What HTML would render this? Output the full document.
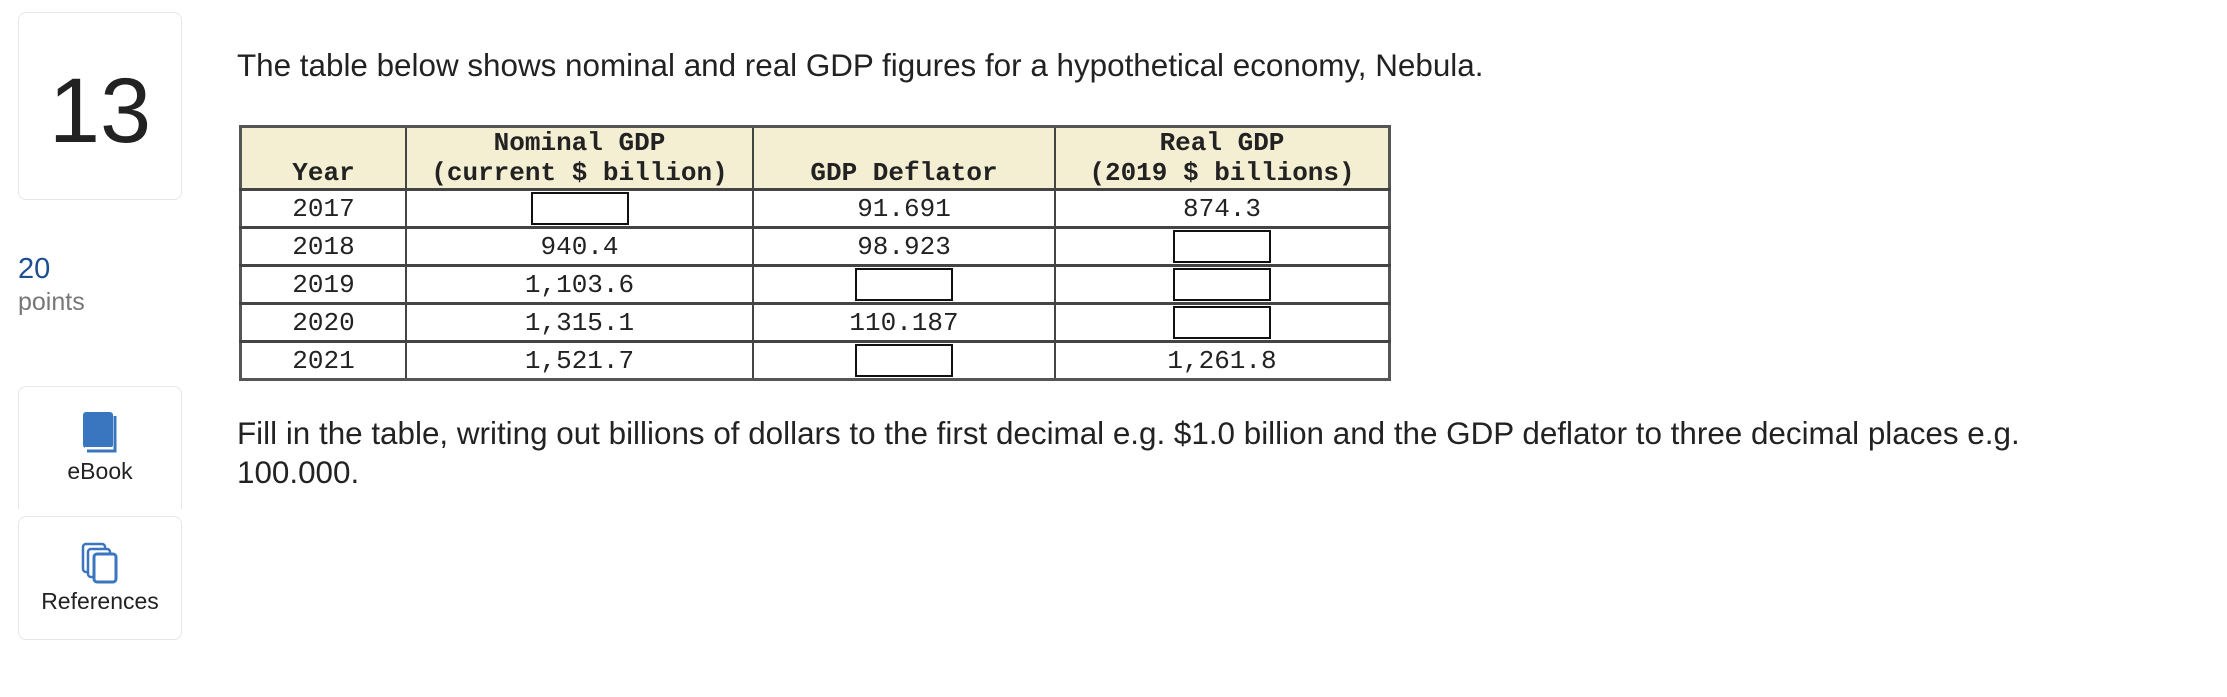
<!DOCTYPE html>
<html><head><meta charset="utf-8"><style>
body{margin:0;width:2227px;height:697px;background:#fff;position:relative;font-family:"Liberation Sans",sans-serif;color:#222;overflow:hidden}
.card{position:absolute;left:18px;width:162px;border:1px solid #e6e6e6;border-radius:8px;background:#fff;text-align:center}
.abs{position:absolute}
table{position:absolute;left:239px;top:125px;border-collapse:collapse;font-family:"Liberation Mono",monospace;font-size:26px;color:#222;border:3px solid #555}
td,th{border:2px solid #444;text-align:center;padding:0;line-height:30px}
th{background:#f4eed3;font-weight:bold;vertical-align:bottom;height:60px}
td{height:35px;border-top:3px solid #444}
.box{display:inline-block;width:94px;height:29px;border:2px solid #111;vertical-align:middle}
p{margin:0}
</style></head><body>
<div class="card" style="top:12px;height:186px">
 <div class="abs" style="left:0;width:162px;top:48px;font-size:92px;line-height:100px">13</div>
</div>
<div class="abs" style="left:18px;top:253px;font-size:29px;color:#1d4e8f">20</div>
<div class="abs" style="left:18px;top:288px;font-size:25px;color:#777">points</div>
<div class="card" style="top:386px;height:122px;border-bottom:none;border-radius:8px 8px 0 0">
 <svg class="abs" style="left:62px;top:24px" width="38" height="42" viewBox="0 0 38 42"><rect x="2" y="1" width="30" height="36" rx="3" fill="#3a75bf"/><path d="M34 5 V40 H6" stroke="#3a75bf" stroke-width="3" fill="none"/><path d="M4 37 H32" stroke="#fff" stroke-width="2"/></svg>
 <div class="abs" style="left:0;width:162px;top:71px;font-size:23px">eBook</div>
</div>
<div class="card" style="top:516px;height:122px">
 <svg class="abs" style="left:62px;top:25px" width="38" height="42" viewBox="0 0 38 42"><rect x="2" y="2" width="22" height="28" rx="3" fill="#fff" stroke="#3a75bf" stroke-width="2.5"/><rect x="7" y="7" width="22" height="28" rx="3" fill="#fff" stroke="#3a75bf" stroke-width="2.5"/><rect x="13" y="12" width="22" height="28" rx="3" fill="#fff" stroke="#3a75bf" stroke-width="3"/></svg>
 <div class="abs" style="left:0;width:162px;top:71px;font-size:23px">References</div>
</div>
<p class="abs" style="left:237px;top:48px;font-size:31.4px;white-space:nowrap">The table below shows nominal and real GDP figures for a hypothetical economy, Nebula.</p>
<table>
<tr><th style="width:163px">Year</th><th style="width:345px">Nominal GDP<br>(current $ billion)</th><th style="width:300px">GDP Deflator</th><th style="width:332px">Real GDP<br>(2019 $ billions)</th></tr>
<tr><td>2017</td><td><span class="box"></span></td><td>91.691</td><td>874.3</td></tr>
<tr><td>2018</td><td>940.4</td><td>98.923</td><td><span class="box"></span></td></tr>
<tr><td>2019</td><td>1,103.6</td><td><span class="box"></span></td><td><span class="box"></span></td></tr>
<tr><td>2020</td><td>1,315.1</td><td>110.187</td><td><span class="box"></span></td></tr>
<tr><td>2021</td><td>1,521.7</td><td><span class="box"></span></td><td>1,261.8</td></tr>
</table>
<p class="abs" style="left:237px;top:414px;font-size:31.4px;line-height:39px;white-space:nowrap">Fill in the table, writing out billions of dollars to the first decimal e.g. $1.0 billion and the GDP deflator to three decimal places e.g.<br>100.000.</p>
</body></html>
